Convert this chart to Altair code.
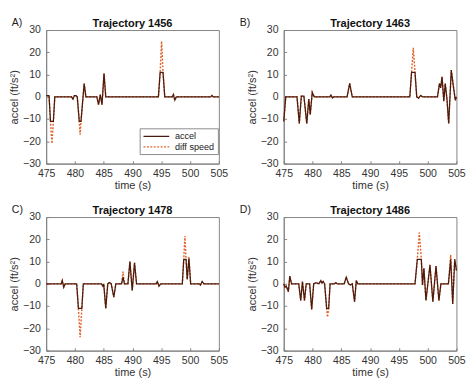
import altair as alt
import pandas as pd

# ---- data ----
t_1456 = [475.0, 475.5, 475.75, 476.0, 476.25, 476.5, 479.4, 479.65, 479.9, 480.2, 480.4, 480.75, 480.9, 481.05,
          481.6, 481.9, 483.8, 484.1, 484.4, 484.7, 485.05, 485.35, 494.5, 494.8, 495.05, 495.3, 495.6, 496.9,
          497.1, 497.35, 497.6, 503.6, 503.8, 504.0, 505.0]
accel_1456 = [0.5, 0.5, -11, -11, -11, 0, 0, -1, 0.5, 0.5, 0, -11, -11, -11,
              6, 0, 0, -3.5, 1, -3.5, 10.5, 0, 0, 11, 11, 11, 0, 0,
              1, -1.5, 0, 0, 0.6, 0, 0]
diff_1456 = [0.5, 0.5, -11, -21, -11, 0, 0, -1, 0.5, 0.5, 0, -11, -17, -11,
             6, 0, 0, -3.5, 1, -3.5, 10.5, 0, 0, 11, 25, 11, 0, 0,
             1, -1.5, 0, 0, 0.6, 0, 0]

t_1463 = [475.0, 475.35, 477.3, 477.7, 478.05, 478.5, 479.0, 479.35, 479.6, 479.95, 480.3, 483.0, 483.2, 483.45,
          483.7, 486.0, 486.45, 486.9, 496.9, 497.2, 497.5, 497.8, 498.1, 498.4, 498.8, 499.1, 501.7, 502.05,
          502.25, 502.5, 502.8, 503.05, 503.35, 503.65, 504.1, 504.45, 504.8, 505.0]
accel_1463 = [-11, 0, 0, -12, 0.3, 0.3, -12, -1, -8, 2, 0, 0, 0.8, -0.5,
              0, 0, 6, 0, 0, 11, 11, 11, 0, -0.6, 0.6, 0, 0, 6,
              4, 9, -2, 6, -1, -12, 12, 5, -1.5, 0]
diff_1463 = [-11, 0, 0, -12, 0.3, 0.3, -12, -1, -8, 2, 0, 0, 0.8, -0.5,
             0, 0, 6, 0, 0, 11, 22, 11, 0, -0.6, 0.6, 0, 0, 6,
             4, 9, -2, 6, -1, -12, 12, 5, -1.5, 0]

t_1478 = [475.0, 477.6, 477.8, 478.05, 478.3, 480.3, 480.6, 480.9, 481.2, 481.45, 484.6, 484.85, 485.0, 485.35,
          485.7, 486.0, 486.3, 486.75, 487.1, 488.1, 488.35, 488.6, 489.2, 489.55, 489.95, 490.35, 490.7, 494.1,
          494.3, 494.6, 494.9, 498.65, 498.9, 499.1, 499.3, 499.5, 499.8, 500.1, 501.6, 501.8, 502.1, 502.4, 505.0]
accel_1478 = [0, 0, 1.5, -1.5, 0, 0, -11, -11, -11, 0, 0, -1, 0, -11,
              0, 0.6, 0, -6, 0, 0, 3, 0, 0, 10, -3, 9.5, 0, 0,
              1, -1, 0, 0, 11, 11, 11, 2, 11.5, 0, 0, -0.5, 1, 0, 0]
diff_1478 = [0, 0, 1.5, -1.5, 0, 0, -11, -24, -11, 0, 0, -1, 0, -11,
             0, 0.6, 0, -6, 0, 0, 5.5, 0, 0, 10, -3, 9.5, 0, 0,
             1, -1, 0, 0, 11, 21.5, 11, 2, 12, 0, 0, -0.5, 1, 0, 0]

t_1486 = [475.0, 475.2, 475.4, 475.6, 475.8, 476.05, 476.35, 477.6, 477.95, 478.25, 478.6, 478.9, 479.5, 479.85,
          480.2, 480.6, 481.1, 481.45, 481.65, 481.85, 482.1, 482.45, 482.6, 482.8, 483.05, 483.8, 484.05, 484.3,
          485.5, 485.85, 486.25, 486.6, 486.9, 487.3, 487.6, 487.85, 497.8, 498.2, 498.55, 498.9, 499.1, 499.35,
          499.7, 500.4, 500.9, 501.45, 501.95, 502.3, 503.6, 504.0, 504.35, 504.7, 505.0]
accel_1486 = [0, -1.5, -1, -2, -3.5, 3.5, 0, 0, -7.5, 1, -7.5, 0, 0, -11.5,
              0, 0.5, 0, 1.5, 0.3, 1, 0, -11, -11, -11, 0, 0, 0.5, 0,
              0, 3, 0, -0.5, 0, -8, 1.5, 0, 0, 11, 11, 11, -0.5, 7,
              -7.5, 8.5, -8, 8, -7.5, 0, 0, 11, -9, 11, 6]
diff_1486 = [0, -1.5, -1, -2, -3.5, 3.5, 0, 0, -7.5, 1, -7.5, 0, 0, -11.5,
             0, 0.5, 0, 1.5, 0.3, 1, 0, -11, -15, -11, 0, 0, 0.5, 0,
             0, 3, 0, -0.5, 0, -8, 1.5, 0, 0, 11, 23, 11, -0.5, 7,
             -7.5, 8.5, -8, 8, -7.5, 0, 0, 13, -9, 11, 6]

series_names = ["accel", "diff speed"]
series_colors = ["#4a1c10", "#e2622a"]
x_ticks = [475, 480, 485, 490, 495, 500, 505]
y_ticks = [-30, -20, -10, 0, 10, 20, 30]

PW, PH = 181, 140
FONT = "Liberation Sans"


def panel(t, a, d, title, letter, letter_x, show_legend):
    df = pd.DataFrame({
        "time": list(t) + list(t),
        "value": list(a) + list(d),
        "series": ["accel"] * len(t) + ["diff speed"] * len(t),
    })
    legend = None
    if show_legend:
        legend = alt.Legend(
            title=None, orient="none", legendX=98, legendY=103, symbolType="M-3,0H3",
            symbolSize=81, symbolStrokeWidth=1.3, symbolOffset=9, labelOffset=14,
            labelFontSize=9.5, labelFont=FONT, labelColor="#222222",
            fillColor="white", strokeColor="#888888", padding=3, rowPadding=1,
        )
    base = alt.Chart(df).encode(
        x=alt.X("time:Q", scale=alt.Scale(domain=[475, 505], nice=False),
                axis=alt.Axis(values=x_ticks, title="time (s)", labelPadding=7)),
        y=alt.Y("value:Q", scale=alt.Scale(domain=[-30, 30], nice=False),
                axis=alt.Axis(values=y_ticks, title="accel (ft/s²)", labelPadding=9, titlePadding=3)),
        color=alt.Color("series:N", scale=alt.Scale(domain=series_names, range=series_colors), legend=legend),
        strokeDash=alt.StrokeDash("series:N", scale=alt.Scale(domain=series_names, range=[[1, 0], [2, 1.6]]),
                                  legend=legend),
    )
    diff_line = base.transform_filter(alt.datum.series == "diff speed").mark_line(strokeWidth=1.5)
    acc_line = base.transform_filter(alt.datum.series == "accel").mark_line(strokeWidth=1.3)
    lab = alt.Chart(pd.DataFrame({"lab": [letter]})).mark_text(
        align="left", baseline="top", fontSize=11, font=FONT, color="#222222"
    ).encode(x=alt.value(letter_x), y=alt.value(-13), text="lab:N")
    return alt.layer(diff_line, acc_line, lab).properties(
        width=PW, height=PH,
        title=alt.TitleParams(title, fontSize=11.5, font=FONT, fontWeight="bold", color="#111111", offset=-12),
    )


pA = panel(t_1456, accel_1456, diff_1456, "Trajectory 1456", "A)", -36, True)
pB = panel(t_1463, accel_1463, diff_1463, "Trajectory 1463", "B)", -46, False)
pC = panel(t_1478, accel_1478, diff_1478, "Trajectory 1478", "C)", -36, False)
pD = panel(t_1486, accel_1486, diff_1486, "Trajectory 1486", "D)", -46, False)

row1 = alt.hconcat(pA, pB, spacing=11).resolve_scale(color="independent", strokeDash="independent")
row2 = alt.hconcat(pC, pD, spacing=11).resolve_scale(color="independent", strokeDash="independent")

chart = alt.vconcat(row1, row2, spacing=13).resolve_scale(
    color="independent", strokeDash="independent"
).properties(padding=0).configure_view(
    stroke="#808080", strokeWidth=1
).configure_axis(
    grid=False, domainColor="#808080", tickColor="#808080", tickSize=alt.ExprRef("-3"),
    labelFont=FONT, labelFontSize=11, labelColor="#333333",
    labelFlush=False, labelOverlap=False,
    titleFont=FONT, titleFontSize=11.5, titleFontWeight="normal", titleColor="#333333", titlePadding=2,
)

chart.save("out.html", embed_options={"renderer": "svg", "actions": False})
